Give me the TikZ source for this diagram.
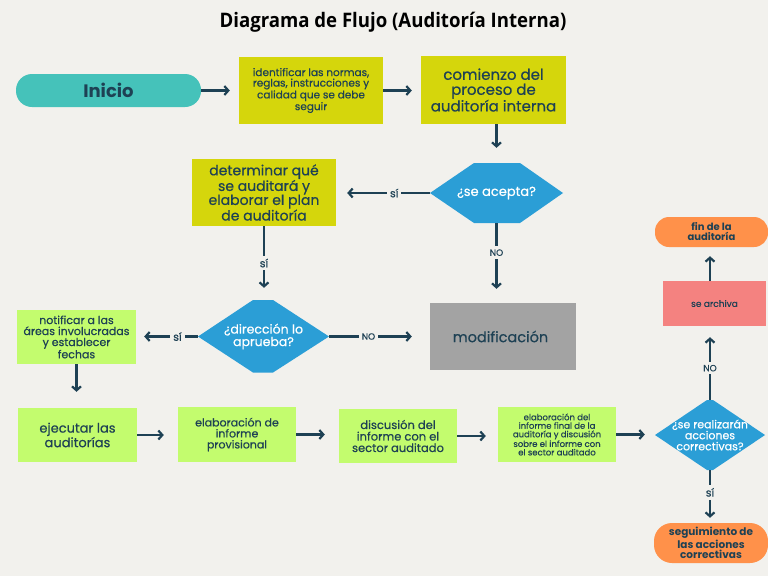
\documentclass[tikz,border=0pt]{standalone}
\usepackage{fontspec}
\usepackage{graphicx}
\setmainfont{Poppins}[UprightFeatures={FakeBold=0.5}]
\newfontfamily\titlefont{Open Sans}
\usetikzlibrary{arrows.meta,calc}
\definecolor{bgc}{HTML}{F2F1ED}
\definecolor{tealc}{HTML}{45C2BA}
\definecolor{yelc}{HTML}{D5D60C}
\definecolor{grnc}{HTML}{C3FC6E}
\definecolor{bluc}{HTML}{2B9ED6}
\definecolor{gryc}{HTML}{A3A3A3}
\definecolor{pnkc}{HTML}{F48280}
\definecolor{orgc}{HTML}{FF914A}
\definecolor{drk}{HTML}{1E4154}
\newcommand{\fs}[1]{\fontsize{#1}{#1}\selectfont}
\begin{document}
\begin{tikzpicture}[x=1pt,y=-1pt,
  box/.style={rectangle,inner sep=0pt,align=center,text=drk},
  ybox/.style={box,fill=yelc},
  gbox/.style={box,fill=grnc},
  pill/.style={rectangle,rounded corners=14pt,inner sep=0pt,align=center,text=drk},
  dtext/.style={box,text=white},
  arr/.style={draw=drk,line width=2.6pt,-{Straight Barb[length=4pt,width=9pt,line width=2.2pt]}},
  lbl/.style={fill=bgc,inner sep=3pt,text=drk},
]
\fill[bgc] (0,0) rectangle (768,576);
\useasboundingbox (0,0) rectangle (768,576);

\node[text=black] (title) at (393,22) {\scalebox{0.93}[1]{\titlefont\bfseries\fs{20}Diagrama de Flujo (Auditoría Interna)}};

% row 1
\node[pill,fill=tealc,minimum width=185pt,minimum height=33pt,rounded corners=16pt,font=\bfseries\fs{18}] (inicio) at (108.5,90.5) {Inicio};
\node[ybox,minimum width=144pt,minimum height=67pt,font=\fs{10.5}] (ident) at (311,90.5) {identificar las normas,\\ reglas, instrucciones y\\ calidad que se debe\\ seguir};
\node[ybox,minimum width=145pt,minimum height=68pt,font=\fs{15}] (comienzo) at (493.5,90) {comienzo del\\ proceso de\\ auditoría interna};

% hexagon
\fill[bluc] (430,193) -- (474,163) -- (520,163) -- (563,193) -- (520,223) -- (474,223) -- cycle;
\node[dtext,minimum width=133pt,minimum height=60pt,font=\fs{13}] (acepta) at (496.5,193) {¿se acepta?};

\node[ybox,minimum width=144pt,minimum height=67pt,font=\fs{14}] (determ) at (264,192.5) {determinar qué\\ se auditará y\\ elaborar el plan\\ de auditoría};

% row 3
\fill[bluc] (198,336.5) -- (253,300) -- (273,300) -- (329,336.5) -- (273,372.5) -- (253,372.5) -- cycle;
\node[dtext,minimum width=131pt,minimum height=73pt,font=\fs{12.5}] (direc) at (263.5,336.5) {¿dirección lo\\ aprueba?};
\node[box,fill=gryc,minimum width=146pt,minimum height=67pt,font=\fs{14.5}] (modif) at (503,336.5) {\hspace*{-5pt}modificación};
\node[gbox,minimum width=119pt,minimum height=54pt,font=\fs{11}] (notif) at (76.5,337) {notificar a las\\ áreas involucradas\\ y establecer\\ fechas};

% row 4
\node[gbox,minimum width=119pt,minimum height=54pt,font=\fs{13}] (ejec) at (77.5,435) {ejecutar las\\ auditorías};
\node[gbox,minimum width=118pt,minimum height=55pt,font=\fs{11}] (elabprov) at (237,434.5) {elaboración de\\ informe\\ provisional};
\node[gbox,minimum width=118pt,minimum height=54pt,font=\fs{11.5}] (discus) at (398,436) {discusión del\\ informe con el\\ sector auditado};
\node[gbox,minimum width=118pt,minimum height=55pt,font=\fs{8.5}] (elabfin) at (557,434.5) {elaboración del\\ informe final de la\\ auditoría y discusión\\ sobre el informe con\\ el sector auditado};

% right column
\fill[bluc] (655,435) -- (707,400) -- (713,400) -- (765,435) -- (713,470) -- (707,470) -- cycle;
\node[dtext,minimum width=110pt,minimum height=70pt,font=\fs{11}] (realiz) at (710,435) {¿se realizarán\\ acciones\\ correctivas?};
\node[box,fill=pnkc,minimum width=103pt,minimum height=45pt,font=\fs{9}] (archiva) at (714.5,303.5) {se archiva};
\node[pill,fill=orgc,minimum width=113pt,minimum height=30pt,font=\bfseries\fs{10}] (fin) at (711.5,232) {fin de la\\ auditoría};
\node[pill,fill=orgc,minimum width=114pt,minimum height=40pt,rounded corners=18pt,font=\bfseries\fs{10.5}] (seguim) at (711,543) {seguimiento de\\ las acciones\\ correctivas};

% connectors
\draw[arr,shorten >=9pt] (inicio.east) -- (ident.west);
\draw[arr,shorten >=9pt] (ident.east) -- (ident.east -| comienzo.west);
\draw[arr,shorten >=15pt] (comienzo.south -| acepta.north) -- (acepta.north);
\draw[arr,shorten >=11pt] (acepta.west) -- node[lbl,pos=0.38,font=\fs{11}]{sí} (acepta.west -| determ.east);
\draw[arr,shorten >=12pt] (determ.south) -- node[lbl,pos=0.5,font=\fs{11}]{sí} (determ.south |- direc.north);
\draw[arr,shorten >=14pt] (acepta.south) -- node[lbl,pos=0.37,font=\fs{9}]{NO} (acepta.south |- modif.north);
\draw[arr,shorten >=8pt] (direc.west) -- node[lbl,pos=0.33,font=\fs{11}]{sí} (direc.west -| notif.east);
\draw[arr,shorten >=18pt] (direc.east) -- node[lbl,pos=0.39,font=\fs{9}]{NO} (direc.east -| modif.west);
\draw[arr,shorten >=16pt] (notif.south) -- (notif.south |- ejec.north);
\draw[arr,shorten >=14pt] (ejec.east) -- (ejec.east -| elabprov.west);
\draw[arr,shorten >=14pt] (elabprov.east) -- (elabprov.east -| discus.west);
\draw[arr,shorten >=12pt] (discus.east) -- (discus.east -| elabfin.west);
\draw[arr,shorten >=10pt] (elabfin.east) -- (elabfin.east -| realiz.west);
\draw[arr,shorten >=11pt] (realiz.north) -- node[lbl,pos=0.43,font=\fs{9}]{NO} (realiz.north |- archiva.south);
\draw[arr,shorten >=9pt] (archiva.north -| realiz.north) -- (realiz.north |- fin.south);
\draw[arr,shorten >=5pt] (realiz.south) -- node[lbl,pos=0.42,font=\fs{11}]{sí} (realiz.south |- seguim.north);
\end{tikzpicture}
\end{document}
